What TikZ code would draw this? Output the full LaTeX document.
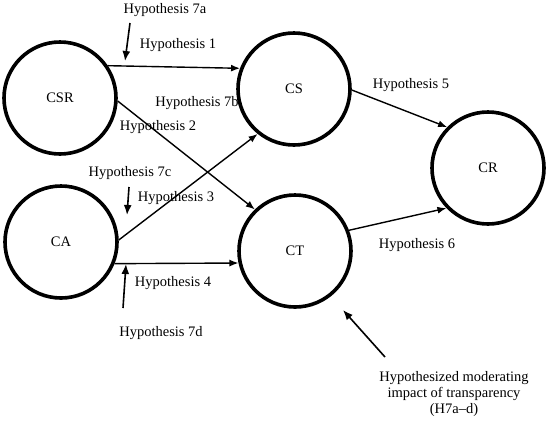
\documentclass[tikz,border=0pt]{standalone}
\usepackage{fontspec}
\setmainfont{Liberation Serif}
\usetikzlibrary{arrows.meta}
\begin{document}
\begin{tikzpicture}[x=1bp,y=-1bp,
  construct/.style={circle,draw,line width=3.6bp,minimum size=112bp,inner sep=0pt,font=\fontsize{14.5bp}{16bp}\selectfont},
  hyp/.style={font=\fontsize{14.5bp}{16bp}\selectfont,inner sep=0pt},
  conn/.style={line width=1.4bp,-{Latex[length=9bp,width=7bp]}},
  modarrow/.style={line width=1.6bp,-{Latex[length=10bp,width=8bp]}}]
\useasboundingbox (0,0) rectangle (550,421);
% labels first (circles drawn over them)
\node[hyp] (l7a) at (165,10) {Hypothesis 7a};
\node[hyp] (l1) at (178,45) {Hypothesis 1};
\node[hyp] (l7b) at (197,103) {Hypothesis 7b};
\node[hyp] (l2) at (158,127) {Hypothesis 2};
\node[hyp] (l7c) at (130,173) {Hypothesis 7c};
\node[hyp] (l3) at (176,198) {Hypothesis 3};
\node[hyp] (l4) at (173,283) {Hypothesis 4};
\node[hyp] (l7d) at (161,333) {Hypothesis 7d};
\node[hyp] (l5) at (411,85) {Hypothesis 5};
\node[hyp] (l6) at (417,245) {Hypothesis 6};
\node[hyp,align=center] (lmod) at (454,394) {Hypothesized moderating\\impact of transparency\\(H7a–d)};
% constructs
\node[construct] (CSR) at (60,98) {CSR};
\node[construct] (CS) at (294,89) {CS};
\node[construct] (CA) at (61,242) {CA};
\node[construct] (CT) at (295,251) {CT};
\node[construct] (CR) at (488,168) {CR};
% paths
\draw[conn] (CSR.34) -- (CS.159);
\draw[conn] (CSR.-3) -- (CT.134);
\draw[conn] (CA.2) -- (CS.-129);
\draw[conn] (CA.-22) -- (CT.-168);
\draw[conn] (CS.-1) -- (CR.135);
\draw[conn] (CT.21) -- (CR.-136);
% moderating arrows
\coordinate (m7a) at (130,23);
\coordinate (t7a) at (125,61);
\draw[modarrow] (m7a) -- (t7a);
\coordinate (m7c) at (129,187);
\coordinate (t7c) at (127,215);
\draw[modarrow] (m7c) -- (t7c);
\coordinate (m7d) at (123,308);
\coordinate (t7d) at (126,264);
\draw[modarrow] (m7d) -- (t7d);
\coordinate (mm) at (385,357);
\coordinate (tm) at (343,310);
\draw[modarrow] (mm) -- (tm);
\end{tikzpicture}
\end{document}
